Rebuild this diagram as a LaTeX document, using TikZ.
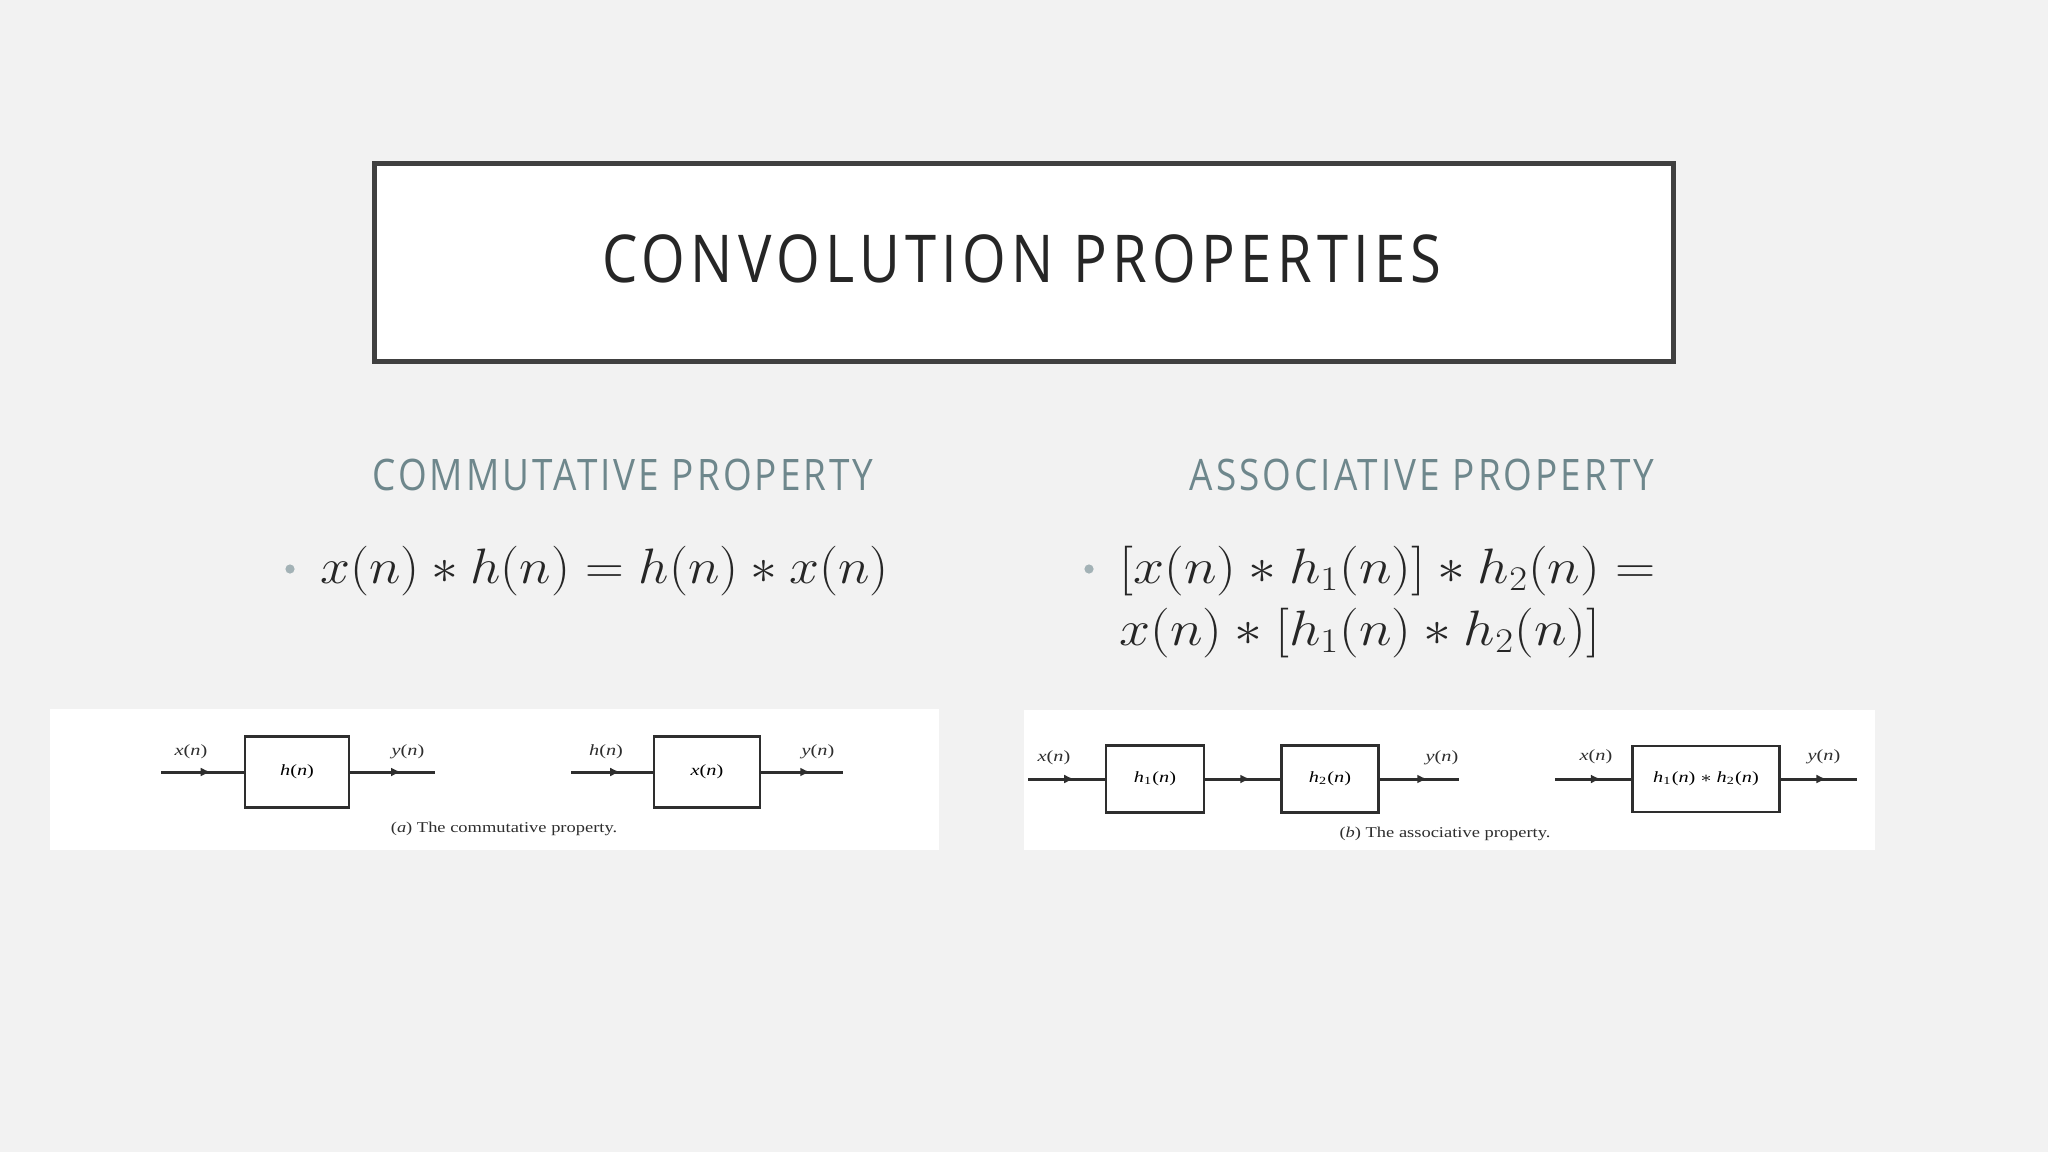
\documentclass[tikz,border=0pt]{standalone}
\usepackage[no-math]{fontspec}
\usepackage{graphicx}
\setmainfont{Open Sans}
\newfontfamily\titlefont[FakeStretch=0.85,LetterSpace=8]{Open Sans}
\newfontfamily\slidefont[FakeStretch=0.85,LetterSpace=7]{Open Sans}
\newfontfamily\scanfont{Liberation Serif}
\usetikzlibrary{arrows.meta,decorations.markings}
\definecolor{slidebg}{HTML}{F2F2F2}
\definecolor{titleframe}{HTML}{404040}
\definecolor{titleink}{HTML}{262626}
\definecolor{headink}{HTML}{6E878C}
\definecolor{bulletink}{HTML}{A3B2B6}
\definecolor{scanink}{HTML}{2E2E2E}
\newcommand{\scan}[1]{{\scanfont\fontsize{7.8}{9}\selectfont\scalebox{1.3}[1]{#1}}}
\newcommand{\scancap}[1]{{\scanfont\fontsize{7.5}{9}\selectfont\scalebox{1.23}[1]{#1}}}
\newcommand{\sig}[1]{\textit{#1}(\textit{n})}
\newcommand{\sigsub}[2]{\textit{#1}\textsubscript{#2}(\textit{n})}
\tikzset{
    block/.style={draw=scanink,line width=1.1pt,fill=white,inner sep=0pt},
    wire/.style={draw=scanink,line width=1.5pt,
        decoration={markings,mark=at position 0.6 with {\arrow{Latex[length=5pt,width=4.5pt]}}},
        postaction={decorate}},
    tag/.style={inner sep=0pt,text=scanink},
    heading/.style={font=\slidefont\fontsize{21.7}{26}\selectfont,text=headink,inner sep=0pt},
    formula/.style={font=\fontsize{26}{30}\selectfont,text=titleink,inner sep=0pt,anchor=west},
}
\begin{document}
\begin{tikzpicture}[x=0.5pt,y=-0.5pt]
        \useasboundingbox[fill=slidebg] (0,0) rectangle (2048,1152);
        \draw[titleframe,line width=2.5pt,fill=white] (374,163) rectangle (1673,361);
        \node[font=\titlefont\fontsize{33}{40}\selectfont,text=titleink,inner sep=0pt] (title) at (1022,259) {CONVOLUTION PROPERTIES};
        \node[heading] (comm) at (623,475) {COMMUTATIVE PROPERTY};
        \node[heading] (assoc) at (1422,475) {ASSOCIATIVE PROPERTY};
        \fill[bulletink] (290,569) circle (2.3pt);
        \fill[bulletink] (1089,569) circle (2.3pt);
        \node[formula] (f1) at (320,571) {\scalebox{1.08}[1]{$x(n)*h(n)=h(n)*x(n)$}};
        \node[formula] (f2a) at (1119,571) {\scalebox{1.12}[1]{$[x(n)*h_1(n)]*h_2(n)=$}};
        \node[formula] (f2b) at (1119,633) {\scalebox{1.12}[1]{$x(n)*[h_1(n)*h_2(n)]$}};
        \fill[white] (50,709) rectangle (939,850);
        \fill[white] (1024,710) rectangle (1875,850);
        \coordinate (a in) at (161,772);
        \coordinate (a out) at (435,772);
        \coordinate (c in) at (571,772);
        \coordinate (c out) at (843,772);
        \node[block,minimum width=52pt,minimum height=35.5pt] (a h) at (297,772) {\scan{\sig{h}}};
        \node[block,minimum width=53pt,minimum height=35.5pt] (c x) at (707,772) {\scan{\sig{x}}};
        \draw[wire] (a in) -- (a h);
        \draw[wire] (a h) -- (a out);
        \draw[wire] (c in) -- (c x);
        \draw[wire] (c x) -- (c out);
        \node[tag] (a in lbl) at (191,752) {\scan{\sig{x}}};
        \node[tag] (a out lbl) at (408,752) {\scan{\sig{y}}};
        \node[tag] (c in lbl) at (606,752) {\scan{\sig{h}}};
        \node[tag] (c out lbl) at (818,752) {\scan{\sig{y}}};
        \node[tag] (cap a) at (504,829) {\scancap{(\textit{a}) The commutative property.}};
        \coordinate (b in) at (1028,779);
        \coordinate (b out) at (1459,779);
        \coordinate (d in) at (1555,779);
        \coordinate (d out) at (1857,779);
        \node[block,minimum width=49pt,minimum height=33.5pt] (b h1) at (1155,779) {\scan{\sigsub{h}{1}}};
        \node[block,minimum width=48.5pt,minimum height=33.5pt] (b h2) at (1330,779) {\scan{\sigsub{h}{2}}};
        \node[block,minimum width=73.5pt,minimum height=33pt] (d h) at (1706,779) {\scan{\sigsub{h}{1} $\ast$ \sigsub{h}{2}}};
        \draw[wire] (b in) -- (b h1);
        \draw[wire] (b h1) -- (b h2);
        \draw[wire] (b h2) -- (b out);
        \draw[wire] (d in) -- (d h);
        \draw[wire] (d h) -- (d out);
        \node[tag] (b in lbl) at (1054,758) {\scan{\sig{x}}};
        \node[tag] (b out lbl) at (1442,758) {\scan{\sig{y}}};
        \node[tag] (d in lbl) at (1596,757) {\scan{\sig{x}}};
        \node[tag] (d out lbl) at (1824,757) {\scan{\sig{y}}};
        \node[tag] (cap b) at (1445,834) {\scancap{(\textit{b}) The associative property.}};
\end{tikzpicture}
\end{document}
